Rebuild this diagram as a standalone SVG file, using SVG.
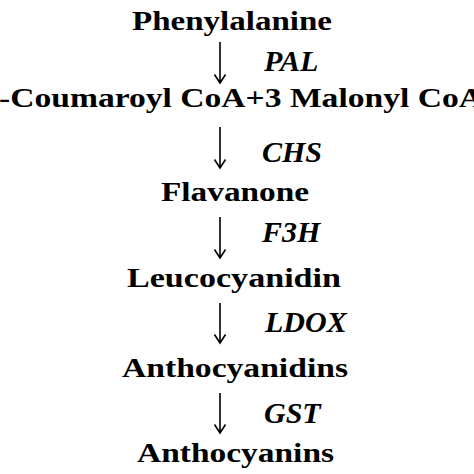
<svg xmlns="http://www.w3.org/2000/svg" width="474" height="474" viewBox="0 0 474 474">
  <rect width="474" height="474" fill="#fff"/>
  <g id="connectors" stroke="#000" stroke-width="1.6" fill="none">
    <path id="arrow-pal" d="M220 42 V83 M214.5 74.5 L220 83 L225.5 74.5"/>
    <path id="arrow-chs" d="M220 127 V168 M214.5 159.5 L220 168 L225.5 159.5"/>
    <path id="arrow-f3h" d="M220 217 V258 M214.5 249.5 L220 258 L225.5 249.5"/>
    <path id="arrow-ldox" d="M220 303 V343 M214.5 334.5 L220 343 L225.5 334.5"/>
    <path id="arrow-gst" d="M220 393 V433 M214.5 424.5 L220 433 L225.5 424.5"/>
  </g>
  <g id="node-phenylalanine"><text font-family="'Liberation Serif'" font-weight="bold" font-size="28" x="132" y="30" textLength="200" lengthAdjust="spacingAndGlyphs">Phenylalanine</text></g>
  <g id="node-coumaroyl"><text font-family="'Liberation Serif'" font-weight="bold" font-size="28" x="-1" y="107" textLength="484" lengthAdjust="spacingAndGlyphs">-Coumaroyl CoA+3 Malonyl CoA</text></g>
  <g id="node-flavanone"><text font-family="'Liberation Serif'" font-weight="bold" font-size="28" x="161" y="201" textLength="148" lengthAdjust="spacingAndGlyphs">Flavanone</text></g>
  <g id="node-leucocyanidin"><text font-family="'Liberation Serif'" font-weight="bold" font-size="28" x="127" y="287" textLength="214" lengthAdjust="spacingAndGlyphs">Leucocyanidin</text></g>
  <g id="node-anthocyanidins"><text font-family="'Liberation Serif'" font-weight="bold" font-size="28" x="122" y="377" textLength="226" lengthAdjust="spacingAndGlyphs">Anthocyanidins</text></g>
  <g id="node-anthocyanins"><text font-family="'Liberation Serif'" font-weight="bold" font-size="28" x="137" y="462" textLength="197" lengthAdjust="spacingAndGlyphs">Anthocyanins</text></g>
  <g id="labels">
    <text font-family="'Liberation Serif'" font-weight="bold" font-style="italic" font-size="30" x="264" y="71">PAL</text>
    <text font-family="'Liberation Serif'" font-weight="bold" font-style="italic" font-size="30" x="262" y="162">CHS</text>
    <text font-family="'Liberation Serif'" font-weight="bold" font-style="italic" font-size="30" x="262" y="242">F3H</text>
    <text font-family="'Liberation Serif'" font-weight="bold" font-style="italic" font-size="30" x="265" y="332">LDOX</text>
    <text font-family="'Liberation Serif'" font-weight="bold" font-style="italic" font-size="30" x="264" y="423">GST</text>
  </g>
</svg>
